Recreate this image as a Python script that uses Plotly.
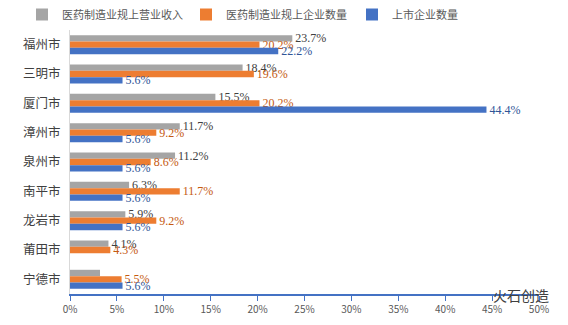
import plotly.graph_objects as go

cities = ["福州市", "三明市", "厦门市", "漳州市", "泉州市", "南平市", "龙岩市", "莆田市", "宁德市"]
revenue = [23.7, 18.4, 15.5, 11.7, 11.2, 6.3, 5.9, 4.1, 3.2]
revenue_labels = ["23.7%", "18.4%", "15.5%", "11.7%", "11.2%", "6.3%", "5.9%", "4.1%", ""]
firms = [20.2, 19.6, 20.2, 9.2, 8.6, 11.7, 9.2, 4.3, 5.5]
listed = [22.2, 5.6, 44.4, 5.6, 5.6, 5.6, 5.6, None, 5.6]
x_ticks = [0, 5, 10, 15, 20, 25, 30, 35, 40, 45, 50]
x_tick_text = ["0%", "5%", "10%", "15%", "20%", "25%", "30%", "35%", "40%", "45%", "50%"]

series = [
    ("医药制造业规上营业收入", revenue, revenue_labels, "#A5A5A5", "#404040", "legend"),
    ("医药制造业规上企业数量", firms, [f"{v}%" for v in firms], "#ED7D31", "#C55A11", "legend2"),
    ("上市企业数量", listed, [f"{v}%" if v is not None else "" for v in listed], "#4472C4", "#2F5597", "legend3"),
]

fig = go.Figure()
for name, vals, txt, col, tcol, lg in series:
    fig.add_trace(go.Bar(
        y=cities, x=vals, name=name, orientation="h", legend=lg, showlegend=True,
        marker=dict(color=col, line=dict(width=0)),
        text=txt, textposition="outside", cliponaxis=False, constraintext="none",
        textfont=dict(family="Liberation Serif", size=12, color=tcol),
        hoverinfo="skip",
    ))

def legend_at(px):
    return dict(orientation="h", xref="container", yref="container", x=px / 568, xanchor="left",
                y=1.0, yanchor="top", font=dict(size=11, color="#595959"),
                itemwidth=30, bgcolor="rgba(0,0,0,0)")

fig.update_layout(
    width=568, height=325,
    showlegend=True,
    margin=dict(l=70, r=29, t=30, b=31, autoexpand=False),
    barmode="group", bargap=0.35, bargroupgap=0,
    uniformtext=dict(minsize=12, mode="show"),
    plot_bgcolor="white", paper_bgcolor="white",
    font=dict(family="Noto Sans CJK SC", color="#595959"),
    legend=legend_at(22), legend2=legend_at(186), legend3=legend_at(352),
    xaxis=dict(range=[0, 50], tickvals=x_ticks, ticktext=x_tick_text, showgrid=False,
               showline=True, linecolor="#4472C4", linewidth=1.5, ticks="outside",
               tickcolor="#4472C4", ticklen=5, tickfont=dict(size=10, color="#595959"),
               zeroline=False, fixedrange=True),
    yaxis=dict(autorange="reversed", showline=True, linecolor="#D9D9D9", linewidth=1,
               ticks="", tickfont=dict(size=12.5, color="#404040"), showgrid=False,
               ticklabelstandoff=6),
    annotations=[dict(text="火石创造", xref="paper", yref="paper", x=1.025, y=-0.005,
                      xanchor="right", yanchor="middle", showarrow=False,
                      font=dict(size=14, color="#404040", family="Noto Sans CJK SC"))],
)

fig.write_html("out.html")
